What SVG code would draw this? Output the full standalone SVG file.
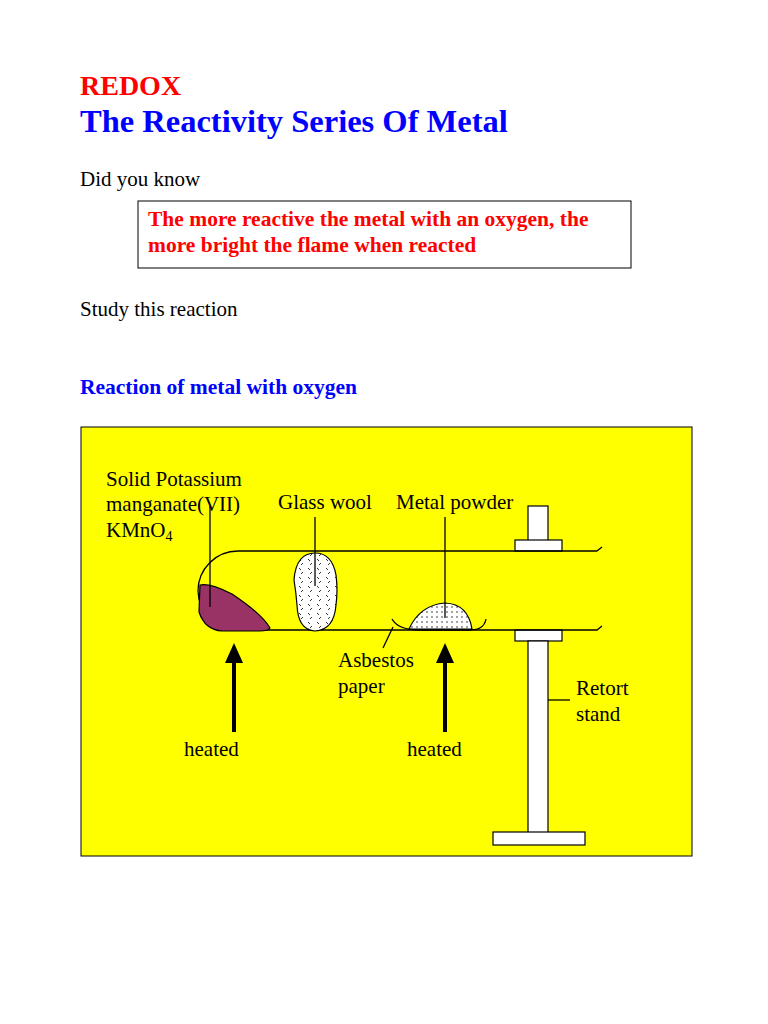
<svg xmlns="http://www.w3.org/2000/svg" width="768" height="1024" viewBox="0 0 768 1024">
<style>
.t{font-family:"Liberation Serif",serif;font-size:21px;fill:#000}
.ln{stroke:#000;stroke-width:1.3;fill:none}
.w{fill:#fff;stroke:#000;stroke-width:1.2}
</style>
<defs>
<pattern id="dots" width="5" height="5" patternUnits="userSpaceOnUse"><circle cx="2" cy="2" r="0.7" fill="#000"/></pattern>
<pattern id="wool" width="9" height="9" patternUnits="userSpaceOnUse"><path d="M2 1 l2 2 M6 5 l-2 2" stroke="#000" stroke-width="0.8"/></pattern>
</defs>
<rect width="768" height="1024" fill="#fff"/>
<text x="80" y="95" style="font-family:'Liberation Serif',serif;font-size:28px;font-weight:bold;fill:#f00">REDOX</text>
<text x="80" y="132" style="font-family:'Liberation Serif',serif;font-size:32.5px;font-weight:bold;fill:#00f">The Reactivity Series Of Metal</text>
<text x="80" y="186" class="t">Did you know</text>
<rect x="138" y="201" width="493" height="67" fill="#fff" stroke="#000" stroke-width="1"/>
<text x="148" y="226" style="font-family:'Liberation Serif',serif;font-size:21.5px;font-weight:bold;fill:#f00">The more reactive the metal with an oxygen, the</text>
<text x="148" y="252" style="font-family:'Liberation Serif',serif;font-size:21.5px;font-weight:bold;fill:#f00">more bright the flame when reacted</text>
<text x="80" y="316" class="t">Study this reaction</text>
<text x="80" y="394" style="font-family:'Liberation Serif',serif;font-size:21.5px;font-weight:bold;fill:#00f">Reaction of metal with oxygen</text>
<rect x="81" y="427" width="611" height="429" fill="#ff0" stroke="#000" stroke-width="1"/>
<g id="stand">
<rect x="528" y="506" width="20" height="35" class="w"/>
<rect x="515" y="540" width="47" height="11" class="w"/>
<rect x="515" y="630" width="47" height="11" class="w"/>
<rect x="528" y="641" width="20" height="192" class="w"/>
<rect x="493" y="832" width="92" height="13" class="w"/>
</g>
<g id="tube">
<path class="ln" d="M597 551 H238 A40 40 0 0 0 198 591 A40 40 0 0 0 238 630 H597 l5 -4 M597 551 l5 -4"/>
</g>
<g id="kmno4"><path d="M200 585 Q210 583 232 594 Q262 614 270 628 Q268 631 260 631 L222 631 Q205 630 199 612 Z" fill="#993366" stroke="#000" stroke-width="1.2"/></g>
<g id="wool">
<path d="M315 553 Q332 553 336 575 Q338 590 336 605 Q334 630 315 631 Q298 630 297 605 Q296 592 294 580 Q296 553 315 553 Z" fill="#fff" stroke="#000" stroke-width="1.2"/>
<path d="M315 553 Q332 553 336 575 Q338 590 336 605 Q334 630 315 631 Q298 630 297 605 Q296 592 294 580 Q296 553 315 553 Z" fill="url(#wool)"/>
</g>
<g id="metal">
<path d="M409 629 Q420 605 445 603 Q468 604 472 629 Z" fill="#fff" stroke="#000" stroke-width="1.2"/>
<path d="M409 629 Q420 605 445 603 Q468 604 472 629 Z" fill="url(#dots)"/>
<path class="ln" d="M392 619 Q398 630 420 630 L470 630 Q484 630 486 619" stroke-width="1.5"/>
</g>
<g id="connectors">
<line class="ln" x1="210" y1="506" x2="210" y2="607"/>
<line class="ln" x1="315" y1="517" x2="315" y2="586"/>
<line class="ln" x1="445" y1="517" x2="445" y2="618"/>
<line class="ln" x1="393" y1="627" x2="383" y2="648"/>
<line class="ln" x1="548" y1="700" x2="570" y2="700"/>
<line x1="234" y1="732" x2="234" y2="660" stroke="#000" stroke-width="4"/>
<polygon points="234,643 225,663 243,663" fill="#000"/>
<line x1="445" y1="732" x2="445" y2="660" stroke="#000" stroke-width="4"/>
<polygon points="445,643 436,663 454,663" fill="#000"/>
</g>
<g id="labels">
<text x="106" y="486" class="t">Solid Potassium</text>
<text x="106" y="511" class="t">manganate(VII)</text>
<text x="106" y="537" class="t">KMnO<tspan font-size="14" dy="4">4</tspan></text>
<text x="278" y="509" class="t">Glass wool</text>
<text x="396" y="509" class="t">Metal powder</text>
<text x="338" y="667" class="t">Asbestos</text>
<text x="338" y="693" class="t">paper</text>
<text x="576" y="695" class="t">Retort</text>
<text x="576" y="721" class="t">stand</text>
<text x="184" y="756" class="t">heated</text>
<text x="407" y="756" class="t">heated</text>
</g>
</svg>
